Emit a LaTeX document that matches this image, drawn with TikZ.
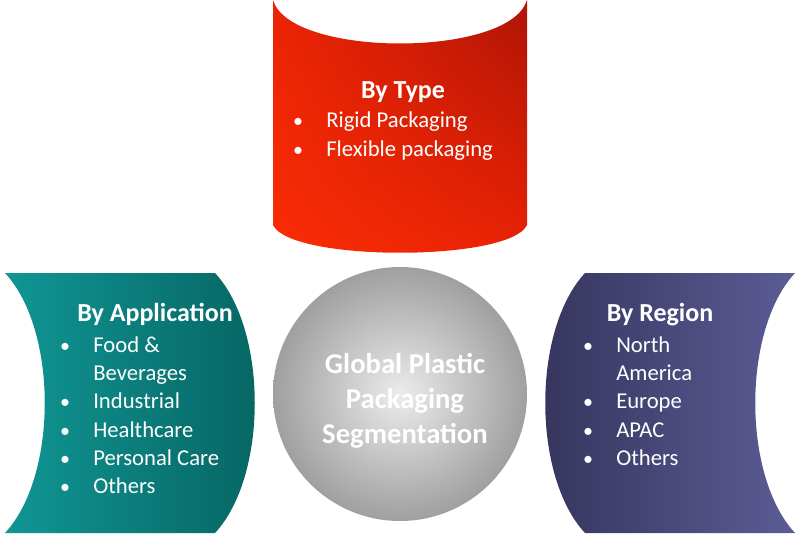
\documentclass[tikz,border=0pt]{standalone}
\usepackage{fontspec}
\setmainfont{Carlito}
\usetikzlibrary{shadings}
\definecolor{rA}{RGB}{250,45,5}
\definecolor{rB}{RGB}{235,35,5}
\definecolor{rC}{RGB}{175,20,5}
\definecolor{tA}{RGB}{16,150,148}
\definecolor{tB}{RGB}{6,100,98}
\definecolor{pA}{RGB}{52,52,92}
\definecolor{pB}{RGB}{92,92,150}
\begin{document}
\begin{tikzpicture}[x=0.75pt,y=-0.75pt,
  ttl/.style={text=white,font=\bfseries\fontsize{19.5}{20}\selectfont,anchor=base},
  itm/.style={text=white,font=\fontsize{17}{17}\selectfont,anchor=base west,inner xsep=0pt},
  bul/.style={text=white,font=\fontsize{15}{17}\selectfont,anchor=base}]
\useasboundingbox (0,0) rectangle (800,549);
% red
\shade[lower left=rA, upper left=rB, lower right=rB, upper right=rC]
 (273,0) .. controls (290,58) and (510,58) .. (527,0) -- (527,225)
 .. controls (510,262) and (290,262) .. (273,225) -- cycle;
% teal
\shade[left color=tA, right color=tB]
 (5,273) -- (215,273) .. controls (268,330) and (268,476) .. (215,533) -- (5,533)
 .. controls (58,476) and (58,330) .. (5,273) -- cycle;
% purple
\shade[left color=pA, right color=pB]
 (585,273) -- (795,273) .. controls (742,330) and (742,476) .. (795,533) -- (585,533)
 .. controls (532,476) and (532,330) .. (585,273) -- cycle;
% circle
\shade[inner color=gray!15, outer color=gray!75] (400,394) circle[radius=127];
\node (c) [text=white,font=\bfseries\fontsize{21.5}{26.5}\selectfont,align=center] at (405,401)
 {Global Plastic\\Packaging\\Segmentation};
% type
\node (t) [ttl] at (403,99) {By Type};
\foreach \y/\s [count=\i] in {128/Rigid Packaging,157/Flexible packaging}{
 \node (tb\i) [bul] at (298,\y) {•}; \node (ti\i) [itm] at (326,\y) {\s};}
% application
\node (a) [ttl] at (155,321) {By Application};
\foreach \y/\s [count=\i] in {352/Food \&,380/Beverages,408/Industrial,437/Healthcare,465/Personal Care,493/Others}{
 \node (ai\i) [itm] at (93,\y) {\s};}
\foreach \y [count=\i] in {352,408,437,465,493}{\node (ab\i) [bul] at (65,\y) {•};}
% region
\node (r) [ttl] at (660,321) {By Region};
\foreach \y/\s [count=\i] in {352/North,380/America,408/Europe,437/APAC,465/Others}{
 \node (ri\i) [itm] at (616,\y) {\s};}
\foreach \y [count=\i] in {352,408,437,465}{\node (rb\i) [bul] at (588,\y) {•};}
\end{tikzpicture}
\end{document}
